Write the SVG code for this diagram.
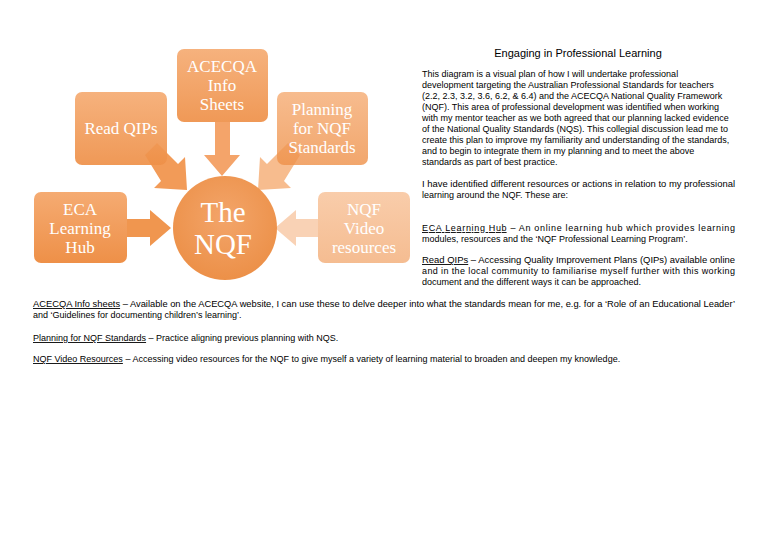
<svg xmlns="http://www.w3.org/2000/svg" width="768" height="543" viewBox="0 0 768 543">
<style>
.t{font-family:"Liberation Sans",Arial,sans-serif;font-size:9px;fill:#000}
.u{text-decoration:underline}
.n{font-family:"Liberation Serif","DejaVu Serif",serif;fill:#fff;text-anchor:middle}
</style>
<defs>
<linearGradient id="g" x1="0" y1="0" x2="0" y2="1"><stop offset="0" stop-color="#f5ab72"/><stop offset="1" stop-color="#ee9048"/></linearGradient>
<radialGradient id="c" cx="0.5" cy="0.4" r="0.6"><stop offset="0" stop-color="#f3a56a"/><stop offset="1" stop-color="#ec9048"/></radialGradient>
</defs>
<rect width="768" height="543" fill="#fff"/>
<g id="connectors">
<polygon points="127,219 150,219 150,210 171,228 150,246 150,237 127,237" fill="#f0964f"/>
<polygon points="318,219 296,219 296,210 275,228 296,246 296,237 318,237" fill="#f9d2b5"/>
<polygon points="215,122 230,122 230,155 240,155 222,176 204,155 215,155" fill="#f4a46a"/>
<polygon points="145,155 157,143 178,164 185,157 187,190 154,188 161,181" fill="#f29b58"/>
<polygon points="300,155 288,143 267,164 260,157 258,190 291,188 284,181" fill="#f7bc8e"/>
</g>
<g id="eca"><rect x="34" y="192" width="93" height="71" rx="7" fill="url(#g)"/>
<text class="n" font-size="17"><tspan x="80" y="215">ECA</tspan><tspan x="80" y="234">Learning</tspan><tspan x="80" y="253">Hub</tspan></text></g>
<g id="qips"><rect x="75" y="92" width="92" height="73" rx="7" fill="url(#g)" opacity="0.92"/>
<text class="n" font-size="17" x="121" y="134">Read QIPs</text></g>
<g id="acecqa"><rect x="177" y="49" width="91" height="73" rx="7" fill="url(#g)" opacity="0.92"/>
<text class="n" font-size="17"><tspan x="222" y="72">ACECQA</tspan><tspan x="222" y="91">Info</tspan><tspan x="222" y="110">Sheets</tspan></text></g>
<g id="planning"><rect x="277" y="92" width="91" height="73" rx="7" fill="url(#g)" opacity="0.8"/>
<text class="n" font-size="17"><tspan x="322" y="115">Planning</tspan><tspan x="322" y="134">for NQF</tspan><tspan x="322" y="153">Standards</tspan></text></g>
<g id="video"><rect x="318" y="192" width="92" height="71" rx="7" fill="url(#g)" opacity="0.6"/>
<text class="n" font-size="17"><tspan x="364" y="215">NQF</tspan><tspan x="364" y="234">Video</tspan><tspan x="364" y="253">resources</tspan></text></g>
<g id="nqf"><circle cx="225" cy="228" r="52" fill="url(#c)"/>
<text class="n" font-size="29"><tspan x="223" y="222">The</tspan><tspan x="223" y="254">NQF</tspan></text></g>
<g id="text">
<text x="578" y="57" font-family="Liberation Sans,Arial,sans-serif" font-size="11" text-anchor="middle">Engaging in Professional Learning</text>
<text class="t">
<tspan x="422" y="77">This diagram is a visual plan of how I will undertake professional</tspan>
<tspan x="422" y="88">development targeting the Australian Professional Standards for teachers</tspan>
<tspan x="422" y="99">(2.2, 2.3, 3.2, 3.6, 6.2, &amp; 6.4) and the ACECQA National Quality Framework</tspan>
<tspan x="422" y="110">(NQF). This area of professional development was identified when working</tspan>
<tspan x="422" y="121">with my mentor teacher as we both agreed that our planning lacked evidence</tspan>
<tspan x="422" y="132">of the National Quality Standards (NQS). This collegial discussion lead me to</tspan>
<tspan x="422" y="143">create this plan to improve my familiarity and understanding of the standards,</tspan>
<tspan x="422" y="154">and to begin to integrate them in my planning and to meet the above</tspan>
<tspan x="422" y="165">standards as part of best practice.</tspan>
</text>
<text class="t" x="422" y="187" textLength="313" lengthAdjust="spacingAndGlyphs">I have identified different resources or actions in relation to my professional</text>
<text class="t" x="422" y="198">learning around the NQF. These are:</text>
<text class="t" x="422" y="231" textLength="313" lengthAdjust="spacing"><tspan class="u">ECA Learning Hub</tspan> – An online learning hub which provides learning</text>
<text class="t" x="422" y="242">modules, resources and the ‘NQF Professional Learning Program’.</text>
<text class="t" x="422" y="263" textLength="313" lengthAdjust="spacingAndGlyphs"><tspan class="u">Read QIPs</tspan> – Accessing Quality Improvement Plans (QIPs) available online</text>
<text class="t" x="422" y="274" textLength="313" lengthAdjust="spacing">and in the local community to familiarise myself further with this working</text>
<text class="t" x="422" y="285">document and the different ways it can be approached.</text>
<text class="t" x="33" y="307" textLength="702" lengthAdjust="spacingAndGlyphs"><tspan class="u">ACECQA Info sheets</tspan> – Available on the ACECQA website, I can use these to delve deeper into what the standards mean for me, e.g. for a ‘Role of an Educational Leader’</text>
<text class="t" x="33" y="318">and ‘Guidelines for documenting children’s learning’.</text>
<text class="t" x="33" y="341"><tspan class="u">Planning for NQF Standards</tspan> – Practice aligning previous planning with NQS.</text>
<text class="t" x="33" y="362"><tspan class="u">NQF Video Resources</tspan> – Accessing video resources for the NQF to give myself a variety of learning material to broaden and deepen my knowledge.</text>
</g>
</svg>
